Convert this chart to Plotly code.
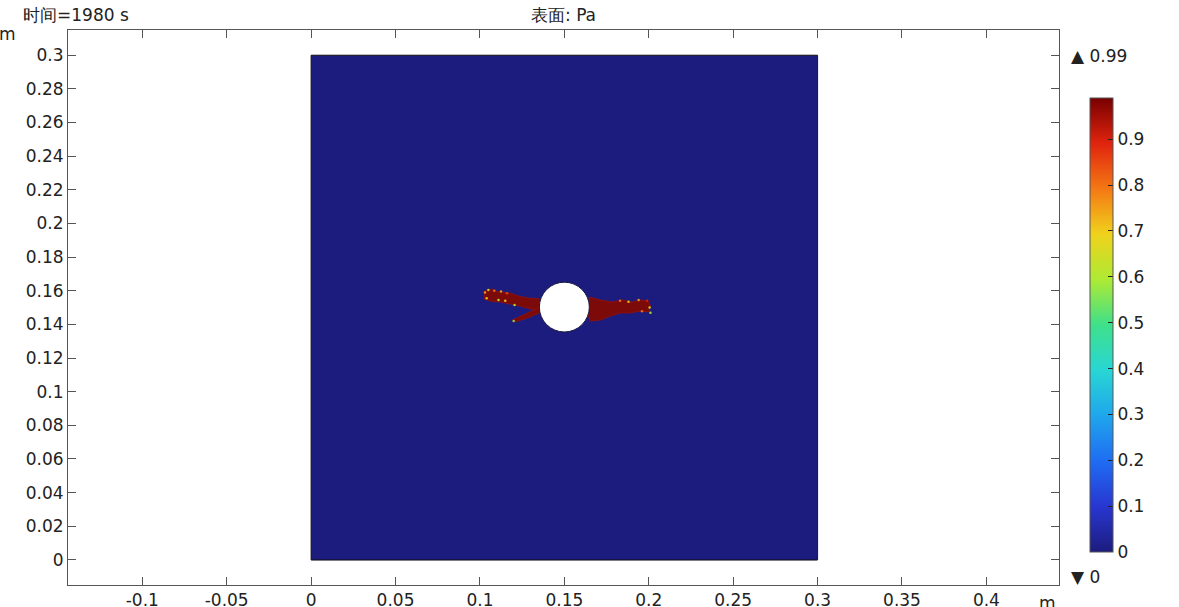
import plotly.graph_objects as go

# field over the square domain (m), value in Pa
dom_x = [0.0, 0.3]
dom_y = [0.0, 0.3]
dom_z = [[0.0]]

# hole
hole_cx, hole_cy, hole_r = 0.150, 0.1503, 0.0148

# damaged zones (outlines, m), value ~0.99
crack_left_x = [0.1026, 0.1050, 0.1073, 0.1100, 0.1121, 0.1180, 0.1227, 0.1287, 0.1364, 0.1364, 0.1298, 0.1239, 0.1180, 0.1121, 0.1061, 0.1026]
crack_left_y = [0.1598, 0.1604, 0.1610, 0.1596, 0.1592, 0.1586, 0.1569, 0.1557, 0.1551, 0.1480, 0.1491, 0.1509, 0.1521, 0.1533, 0.1539, 0.1551]
branch_left_x = [0.1192, 0.1269, 0.1358, 0.1364, 0.1281, 0.1204]
branch_left_y = [0.1426, 0.1462, 0.1503, 0.1474, 0.1438, 0.1414]
crack_right_x = [0.1648, 0.1713, 0.1785, 0.1844, 0.1903, 0.1951, 0.1998, 0.2010, 0.1998, 0.1951, 0.1891, 0.1832, 0.1773, 0.1713, 0.1654, 0.1642]
crack_right_y = [0.1563, 0.1545, 0.1533, 0.1545, 0.1533, 0.1545, 0.1539, 0.1509, 0.1474, 0.1480, 0.1468, 0.1468, 0.1450, 0.1426, 0.1420, 0.1456]

# lighter speckles along the crack fringe
spk_x = [0.1030, 0.1050, 0.1085, 0.1110, 0.1150, 0.1200, 0.1160, 0.1205, 0.1830, 0.1880, 0.1940, 0.1990, 0.2005, 0.2010, 0.1960, 0.1040, 0.1125]
spk_y = [0.1590, 0.1605, 0.1600, 0.1545, 0.1540, 0.1420, 0.1585, 0.1515, 0.1540, 0.1535, 0.1545, 0.1540, 0.1500, 0.1470, 0.1478, 0.1555, 0.1595]
spk_v = [0.75, 0.65, 0.8, 0.6, 0.7, 0.55, 0.85, 0.6, 0.8, 0.7, 0.75, 0.9, 0.65, 0.6, 0.8, 0.7, 0.75]

cmin, cmax = 0.0, 0.99
cticks = [0, 0.1, 0.2, 0.3, 0.4, 0.5, 0.6, 0.7, 0.8, 0.9]

rainbow = [
    [0.0, '#1c1c7e'], [0.1, '#2836d0'], [0.2, '#1f6cf2'], [0.3, '#1fa6ec'],
    [0.4, '#28d6d4'], [0.5, '#3ee08a'], [0.6, '#aeea34'], [0.7, '#f0d21c'],
    [0.8, '#f47814'], [0.9, '#e0240e'], [1.0, '#780000'],
]

fig = go.Figure()
fig.add_trace(go.Heatmap(
    x=dom_x, y=dom_y, z=dom_z, coloraxis='coloraxis', hoverinfo='skip'
))

dark_red = '#7c0a08'
for xs, ys in [(crack_left_x, crack_left_y), (branch_left_x, branch_left_y), (crack_right_x, crack_right_y)]:
    fig.add_trace(go.Scatter(
        x=xs + xs[:1], y=ys + ys[:1], mode='lines', fill='toself',
        fillcolor=dark_red, line=dict(color='#8a1010', width=1), showlegend=False
    ))

fig.add_trace(go.Scatter(
    x=spk_x, y=spk_y, mode='markers', showlegend=False,
    marker=dict(size=2.5, color=spk_v, coloraxis='coloraxis', opacity=0.9)
))

# domain outline
fig.add_trace(go.Scatter(
    x=[dom_x[0], dom_x[1], dom_x[1], dom_x[0], dom_x[0]],
    y=[dom_y[0], dom_y[0], dom_y[1], dom_y[1], dom_y[0]],
    mode='lines', line=dict(color='#111', width=1), showlegend=False
))

fig.add_shape(type='circle', xref='x', yref='y',
              x0=hole_cx - hole_r, x1=hole_cx + hole_r,
              y0=hole_cy - hole_r, y1=hole_cy + hole_r,
              fillcolor='white', line=dict(color='#1a1a40', width=1))

font = dict(family='DejaVu Sans', size=17, color='#222')
axis_common = dict(
    showgrid=False, zeroline=False, showline=True, linecolor='#555', linewidth=1,
    mirror='ticks', ticks='inside', ticklen=8, tickcolor='#555', tickfont=font,
    automargin=False
)

fig.update_layout(
    width=1179, height=607,
    paper_bgcolor='white', plot_bgcolor='white',
    margin=dict(l=68, r=120, t=30, b=22, autoexpand=False),
    showlegend=False,
    xaxis=dict(range=[-0.144, 0.443], tickvals=[-0.1, -0.05, 0, 0.05, 0.1, 0.15, 0.2, 0.25, 0.3, 0.35, 0.4],
               ticktext=['-0.1', '-0.05', '0', '0.05', '0.1', '0.15', '0.2', '0.25', '0.3', '0.35', '0.4'], **axis_common),
    yaxis=dict(range=[-0.0149, 0.315], tickvals=[i * 0.02 for i in range(16)],
               ticktext=['0', '0.02', '0.04', '0.06', '0.08', '0.1', '0.12', '0.14', '0.16', '0.18',
                         '0.2', '0.22', '0.24', '0.26', '0.28', '0.3'], **axis_common),
    coloraxis=dict(
        cmin=cmin, cmax=cmax, colorscale=rainbow,
        colorbar=dict(
            x=1.0313, xanchor='left', y=0.4685, yanchor='middle', len=0.818, lenmode='fraction',
            thickness=23, outlinecolor='#555', outlinewidth=1,
            tickvals=cticks, ticktext=[str(t) for t in cticks],
            ticks='inside', ticklen=5, tickcolor='#222', tickfont=font, xpad=0, ypad=0
        )
    ),
    annotations=[
        dict(text='时间=1980 s', x=0, y=1, xref='paper', yref='paper', showarrow=False,
             xanchor='left', yanchor='bottom', xshift=-47, yshift=3),
        dict(text='表面: Pa', x=0.5, y=1, xref='paper', yref='paper', showarrow=False,
             yanchor='bottom', yshift=3),
        dict(text='m', x=0, y=1, xref='paper', yref='paper', showarrow=False,
             xanchor='right', yanchor='top', xshift=-50, yshift=8),
        dict(text='m', x=1, y=0, xref='paper', yref='paper', showarrow=False,
             xanchor='right', yanchor='top', xshift=-1, yshift=-6),
        dict(text='▲ 0.99', x=1, y=1, xref='paper', yref='paper', showarrow=False,
             xanchor='left', yanchor='middle', xshift=10, yshift=-26),
        dict(text='▼ 0', x=1, y=0, xref='paper', yref='paper', showarrow=False,
             xanchor='left', yanchor='middle', xshift=10, yshift=8),
    ],
    font=font,
)

fig.write_html("out.html", config={'displayModeBar': False},
               post_script="document.body.style.margin='0px';")
